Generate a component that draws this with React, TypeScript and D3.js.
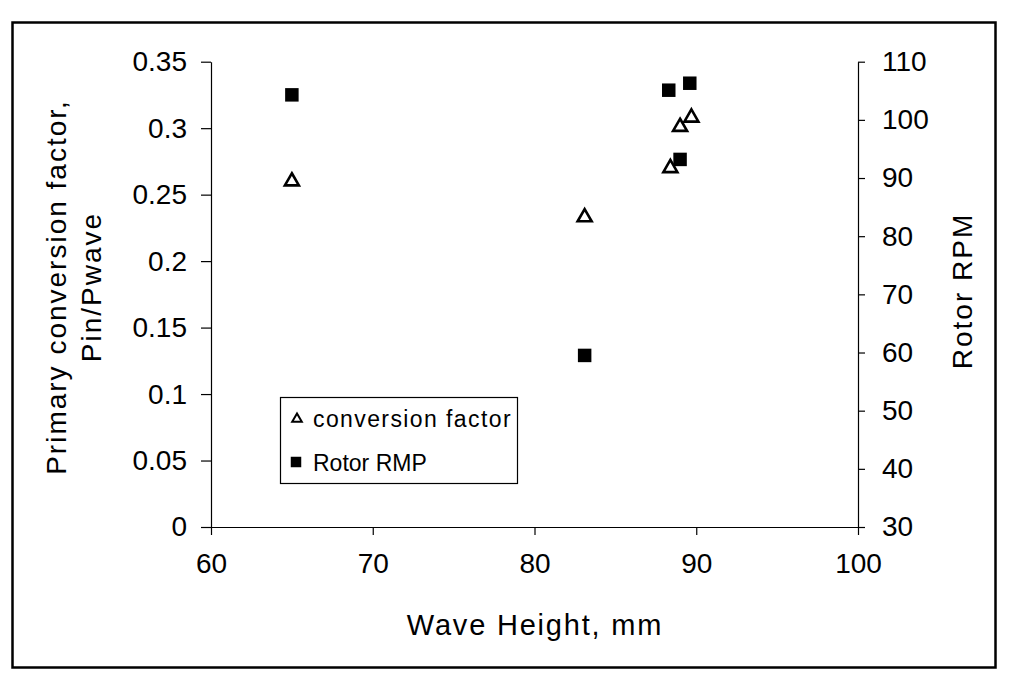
import React, { useEffect, useRef } from 'react';
import * as d3 from 'd3';

// conversion factor series (Pin/Pwave) vs wave height
const cfWave = [65, 83.1, 88.4, 89, 89.7];
const cfValue = [0.26, 0.233, 0.27, 0.301, 0.308];

// rotor rpm series vs wave height
const rpmWave = [65, 83.1, 88.3, 89, 89.6];
const rpmValue = [104.3, 59.5, 105.1, 93.2, 106.3];

const xTicks = [60, 70, 80, 90, 100];
const leftTicks = [0, 0.05, 0.1, 0.15, 0.2, 0.25, 0.3, 0.35];
const rightTicks = [30, 40, 50, 60, 70, 80, 90, 100, 110];

const legendLabels = ['conversion factor', 'Rotor RMP'];

const FONT = '"Liberation Sans", Arial, sans-serif';

const App = () => {
  const ref = useRef<SVGSVGElement>(null);

  useEffect(() => {
    const svg = d3.select(ref.current);
    svg.selectAll('*').remove();

    const left = 211, right = 858, top = 61.7, bottom = 527;

    const x = d3.scaleLinear().domain([60, 100]).range([left, right]);
    const yL = d3.scaleLinear().domain([0, 0.35]).range([bottom, top]);
    const yR = d3.scaleLinear().domain([30, 110]).range([bottom, top]);

    // outer frame
    svg.append('rect')
      .attr('x', 12.5).attr('y', 22.5)
      .attr('width', 983).attr('height', 645)
      .attr('fill', 'white')
      .attr('stroke', 'black')
      .attr('stroke-width', 2.5);

    const styleAxis = (g, size, ls) => {
      g.select('.domain').attr('stroke', 'black').attr('stroke-width', 1.2);
      g.selectAll('.tick line').attr('stroke', 'black').attr('stroke-width', 1.2);
      g.selectAll('.tick text')
        .attr('fill', 'black')
        .attr('font-family', FONT)
        .attr('font-size', size)
        .attr('letter-spacing', ls);
    };

    const gx = svg.append('g')
      .attr('transform', `translate(0 ${bottom})`)
      .call(d3.axisBottom(x).tickValues(xTicks).tickSize(8).tickSizeOuter(0).tickPadding(18).tickFormat(d => String(d)));
    styleAxis(gx, 28, 0);

    const gl = svg.append('g')
      .attr('transform', `translate(${left} 0)`)
      .call(d3.axisLeft(yL).tickValues(leftTicks).tickSize(10).tickSizeOuter(0).tickPadding(14).tickFormat(d => String(d)));
    styleAxis(gl, 28, 0);

    const gr = svg.append('g')
      .attr('transform', `translate(${right} 0)`)
      .call(d3.axisRight(yR).tickValues(rightTicks).tickSize(7).tickSizeOuter(0).tickPadding(17).tickFormat(d => String(d)));
    styleAxis(gr, 28, 0);

    // axis titles
    svg.append('text')
      .attr('x', (left + right) / 2 + 0.5)
      .attr('y', 635)
      .attr('text-anchor', 'middle')
      .attr('font-family', FONT)
      .attr('font-size', 29)
      .attr('letter-spacing', 1.8)
      .text('Wave Height, mm');

    const leftTitle = svg.append('text')
      .attr('transform', 'translate(0 287) rotate(-90)')
      .attr('text-anchor', 'middle')
      .attr('font-family', FONT)
      .attr('font-size', 28)
      .attr('letter-spacing', 2);
    leftTitle.append('tspan').attr('x', 0).attr('y', 66).text('Primary conversion factor,');
    leftTitle.append('tspan').attr('x', 0).attr('y', 101).text('Pin/Pwave');

    svg.append('text')
      .attr('transform', 'translate(972 291) rotate(-90)')
      .attr('text-anchor', 'middle')
      .attr('font-family', FONT)
      .attr('font-size', 28)
      .attr('letter-spacing', 2)
      .text('Rotor RPM');

    // data markers
    svg.selectAll('path.cf')
      .data(cfWave)
      .enter()
      .append('path')
      .attr('class', 'cf')
      .attr('d', d3.symbol(d3.symbolTriangle, 85))
      .attr('transform', (d, i) => `translate(${x(d)} ${yL(cfValue[i])})`)
      .attr('fill', 'white')
      .attr('stroke', 'black')
      .attr('stroke-width', 2.6);

    svg.selectAll('path.rpm')
      .data(rpmWave)
      .enter()
      .append('path')
      .attr('class', 'rpm')
      .attr('d', d3.symbol(d3.symbolSquare, 182))
      .attr('transform', (d, i) => `translate(${x(d)} ${yR(rpmValue[i])})`)
      .attr('fill', 'black');

    // legend
    svg.append('rect')
      .attr('x', 280.5).attr('y', 397.5)
      .attr('width', 237).attr('height', 86)
      .attr('fill', 'white')
      .attr('stroke', 'black')
      .attr('stroke-width', 1.2);

    svg.append('path')
      .attr('d', d3.symbol(d3.symbolTriangle, 40))
      .attr('transform', 'translate(297 419)')
      .attr('fill', 'white')
      .attr('stroke', 'black')
      .attr('stroke-width', 2);

    svg.append('path')
      .attr('d', d3.symbol(d3.symbolSquare, 110))
      .attr('transform', 'translate(296 462)')
      .attr('fill', 'black');

    svg.selectAll('text.legend')
      .data(legendLabels)
      .enter()
      .append('text')
      .attr('class', 'legend')
      .attr('x', 313)
      .attr('y', (d, i) => 427 + i * 44)
      .attr('font-family', FONT)
      .attr('font-size', 23)
      .attr('letter-spacing', (d, i) => (i === 0 ? 1.4 : 0))
      .text(d => d);
  }, []);

  return (
    <svg
      ref={ref}
      width={1011}
      height={677}
      style={{ position: 'absolute', left: 0, top: 0, background: 'white' }}
    />
  );
};

export default App;
